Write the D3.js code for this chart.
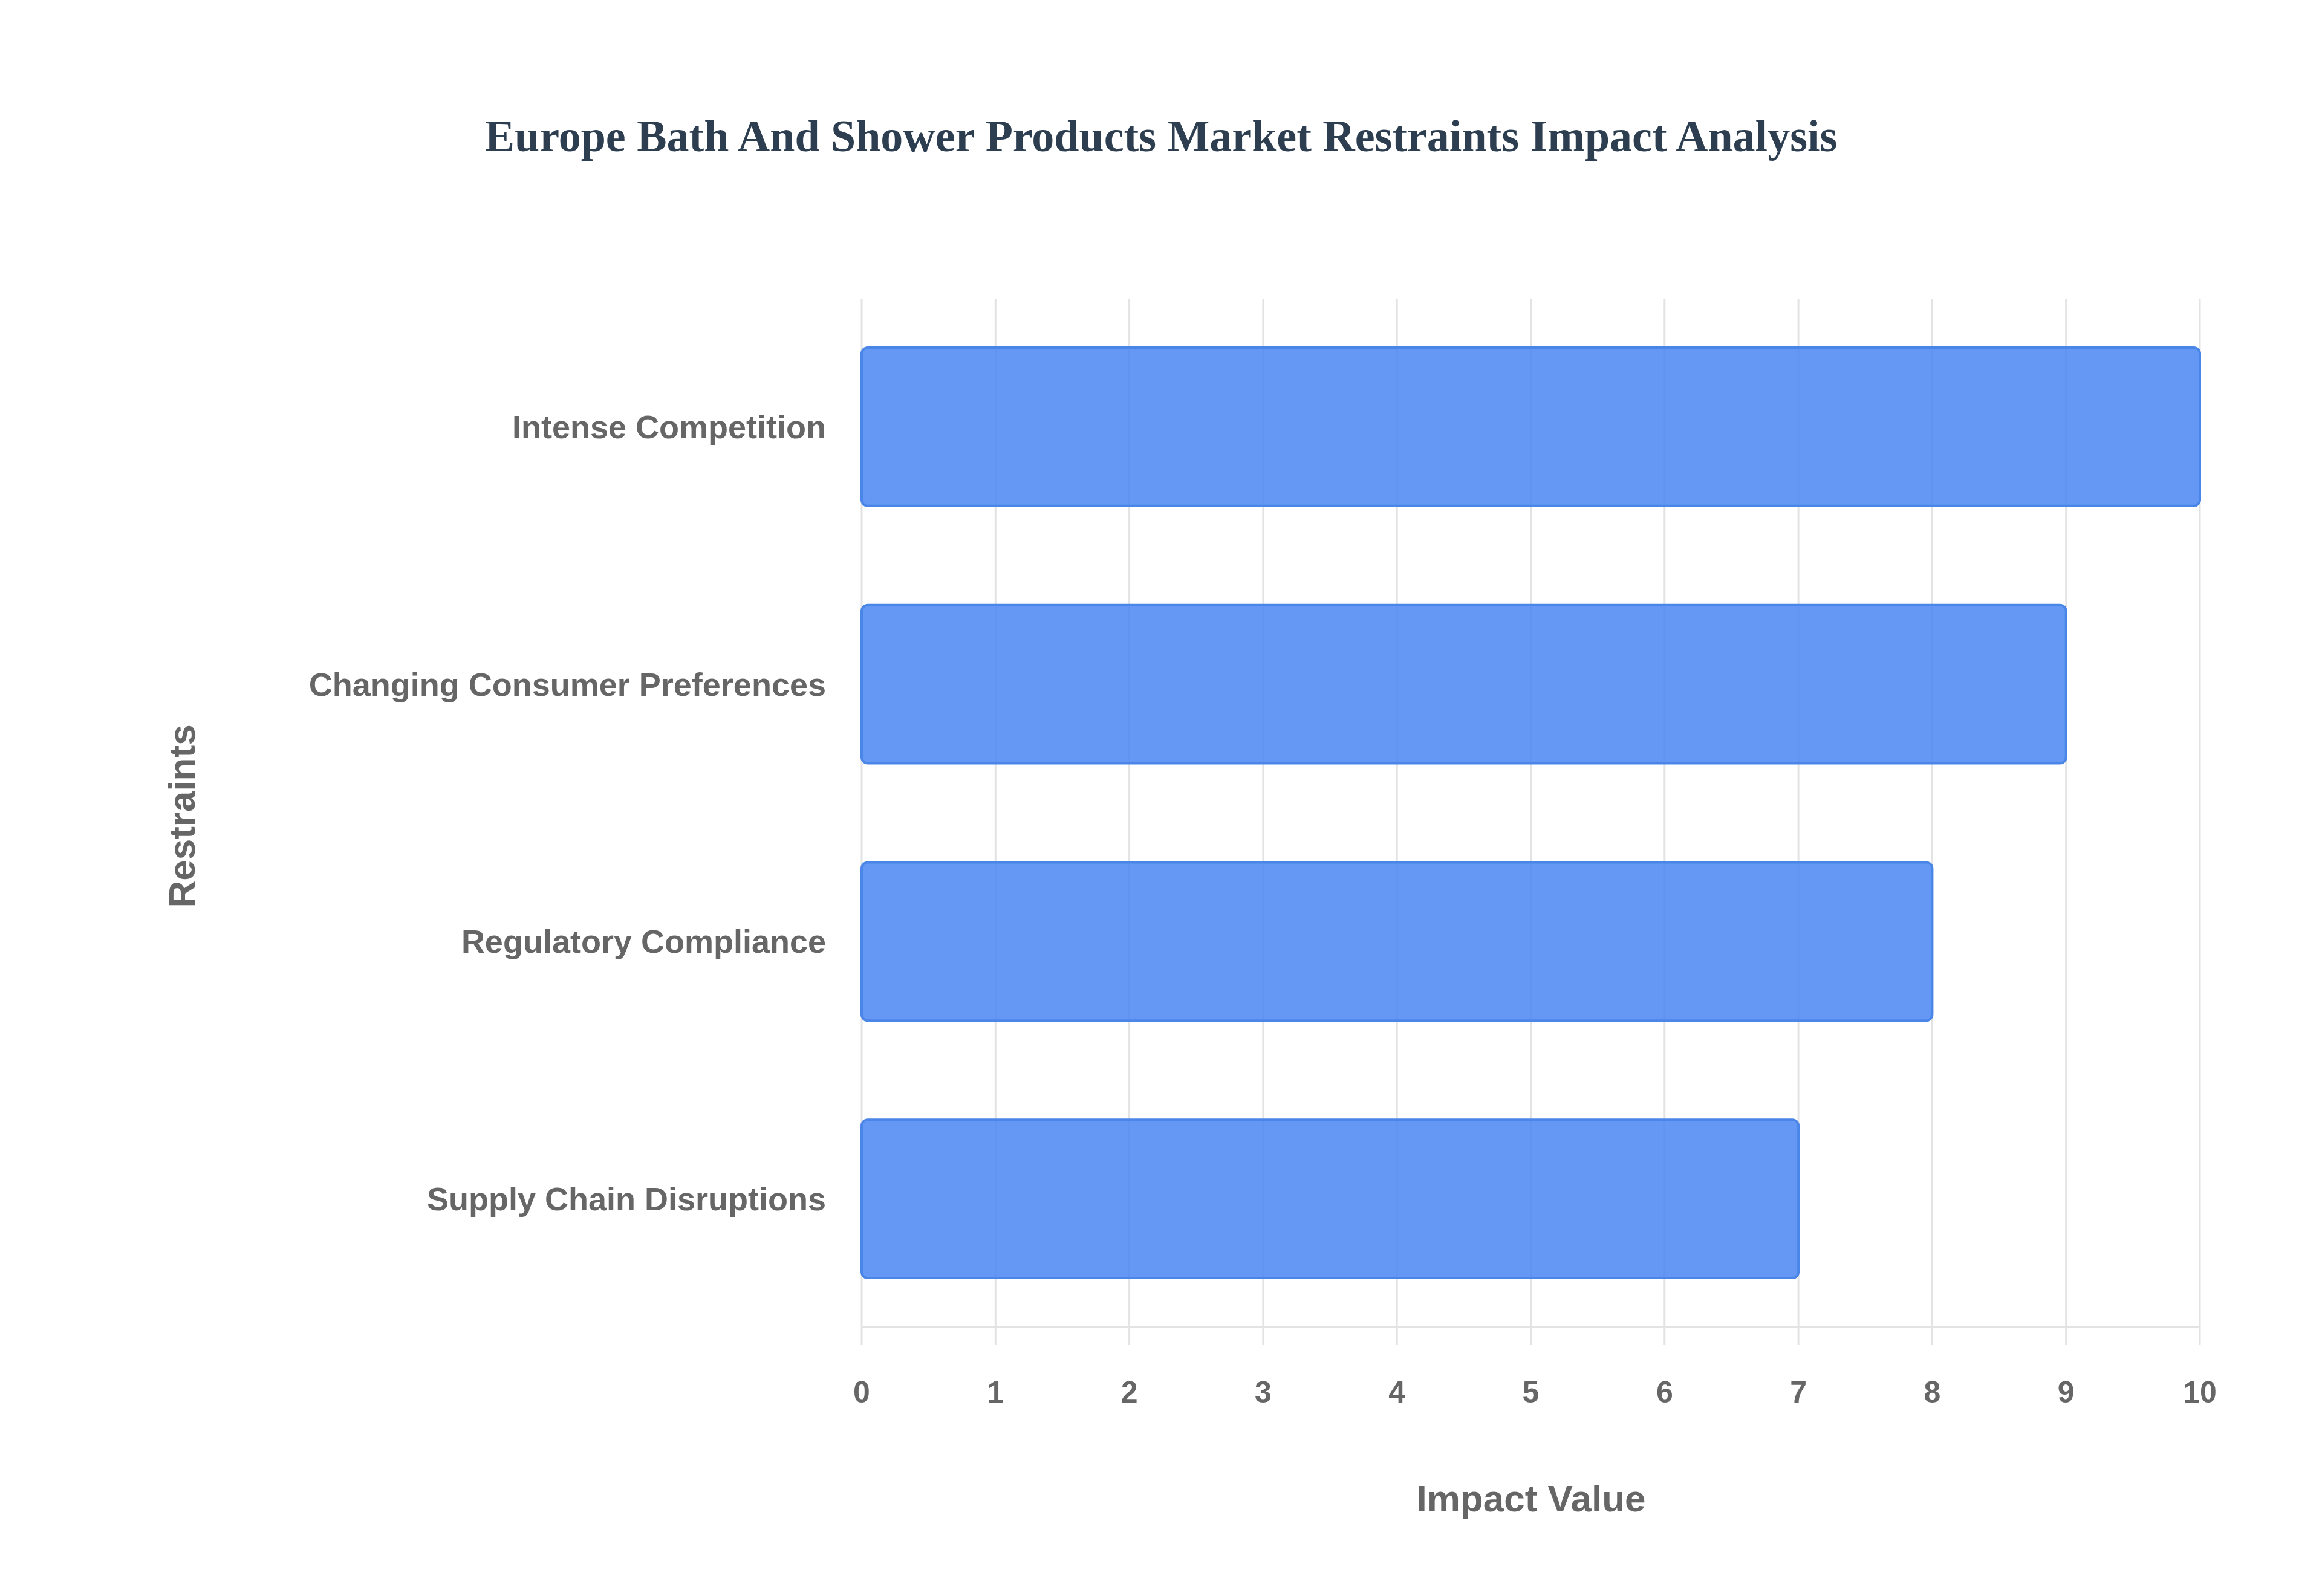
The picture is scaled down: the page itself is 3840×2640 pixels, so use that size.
<!DOCTYPE html>
<html><head><meta charset="utf-8">
<script src="https://cdn.jsdelivr.net/npm/d3@7"></script>
<style>body{margin:0;background:#fff}</style></head>
<body><svg id="c" width="3840" height="2640"></svg>
<script>
const categories = ["Intense Competition","Changing Consumer Preferences","Regulatory Compliance","Supply Chain Disruptions"];
const values = [10, 9, 8, 7];
const xTicks = [0,1,2,3,4,5,6,7,8,9,10];

const svg = d3.select("#c");
const m = {l:1425, r:3638, t:494, b:2195};
const x = d3.scaleLinear().domain([0,10]).range([m.l, m.r]);
const y = d3.scaleBand().domain(categories).range([m.t, m.b]).paddingInner(0.385).paddingOuter(0.19);

svg.append("text").attr("x",1920).attr("y",250).attr("text-anchor","middle")
  .attr("font-family","Liberation Serif").attr("font-weight","bold").attr("font-size",74)
  .attr("fill","#2c3e50").text("Europe Bath And Shower Products Market Restraints Impact Analysis");

// grid
svg.append("g").selectAll("line").data(xTicks).join("line")
  .attr("x1",d=>x(d)).attr("x2",d=>x(d)).attr("y1",m.t).attr("y2",m.b+30)
  .attr("stroke","#e3e3e3").attr("stroke-width",3);
svg.append("line").attr("x1",m.l).attr("x2",m.r).attr("y1",m.b).attr("y2",m.b)
  .attr("stroke","#e3e3e3").attr("stroke-width",4);

svg.append("g").selectAll("rect").data(categories).join("rect")
  .attr("x",x(0)).attr("y",d=>y(d)).attr("width",(d,i)=>x(values[i])-x(0)).attr("height",y.bandwidth())
  .attr("rx",10).attr("fill","rgba(74,134,242,0.85)").attr("stroke","#4a86e8").attr("stroke-width",4);

const f = "Liberation Sans";
svg.append("g").selectAll("text").data(categories).join("text")
  .attr("x",1366).attr("y",d=>y(d)+y.bandwidth()/2).attr("dy","0.35em").attr("text-anchor","end")
  .attr("font-family",f).attr("font-weight","bold").attr("font-size",54).attr("fill","#666").text(d=>d);

svg.append("g").selectAll("text").data(xTicks).join("text")
  .attr("x",d=>x(d)).attr("y",2320).attr("text-anchor","middle")
  .attr("font-family",f).attr("font-weight","bold").attr("font-size",50).attr("fill","#666").text(d=>d);

svg.append("text").attr("x",2532).attr("y",2500).attr("text-anchor","middle")
  .attr("font-family",f).attr("font-weight","bold").attr("font-size",62).attr("fill","#666").text("Impact Value");
svg.append("text").attr("transform","translate(322,1350) rotate(-90)").attr("text-anchor","middle")
  .attr("font-family",f).attr("font-weight","bold").attr("font-size",62).attr("fill","#666").text("Restraints");
</script></body></html>
